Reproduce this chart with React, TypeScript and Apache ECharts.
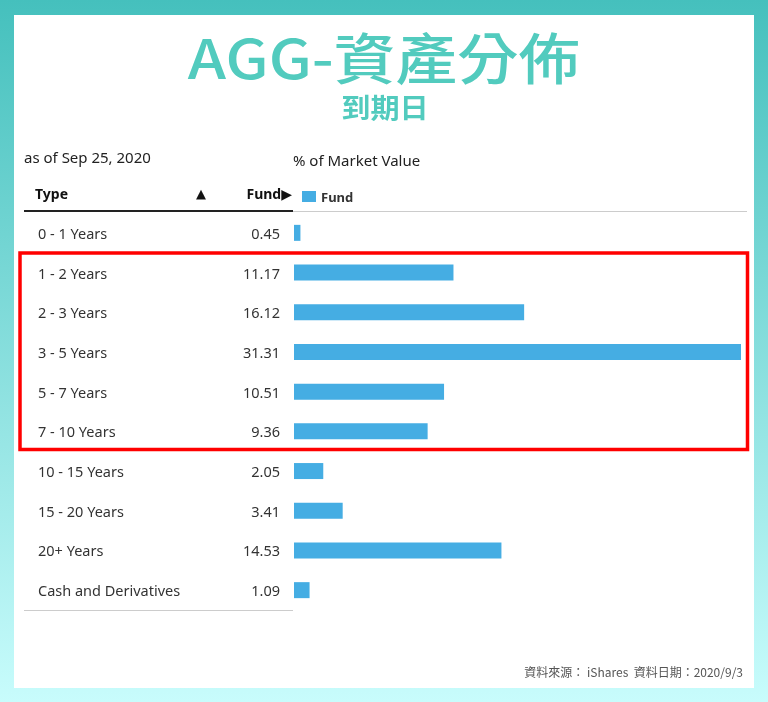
import React, { useEffect, useRef } from "react";
import * as echarts from "echarts";

const categories = [
  "0 - 1 Years",
  "1 - 2 Years",
  "2 - 3 Years",
  "3 - 5 Years",
  "5 - 7 Years",
  "7 - 10 Years",
  "10 - 15 Years",
  "15 - 20 Years",
  "20+ Years",
  "Cash and Derivatives",
];
const fundValues = [0.45, 11.17, 16.12, 31.31, 10.51, 9.36, 2.05, 3.41, 14.53, 1.09];
const titleText = "AGG-資產分佈";
const subtitleText = "到期日";
const asOfText = "as of Sep 25, 2020";
const sourceText = "資料來源： iShares  資料日期：2020/9/3";

const SANS = "'Noto Sans', 'DejaVu Sans', sans-serif";
const CJK = "'Noto Sans CJK TC', 'Noto Sans CJK SC', sans-serif";

export default function App() {
  const ref = useRef<HTMLDivElement>(null);
  useEffect(() => {
    if (!ref.current) return;
    const chart = echarts.init(ref.current, null, { renderer: "svg" });
    chart.setOption({
      animation: false,
      graphic: [
        {
          type: "rect",
          z: -10,
          silent: true,
          shape: { x: 0, y: 0, width: 768, height: 702 },
          style: {
            fill: new echarts.graphic.LinearGradient(0, 0, 0, 1, [
              { offset: 0, color: "#45c0bd" },
              { offset: 1, color: "#c8fcfc" },
            ]),
          },
        },
        {
          type: "rect",
          z: -9,
          silent: true,
          shape: { x: 14, y: 15, width: 740, height: 673 },
          style: { fill: "#ffffff" },
        },
        {
          type: "text",
          x: 384,
          y: 55,
          scaleX: 1.12,
          style: {
            text: titleText,
            fill: "#52cbbe",
            font: `500 55px ${CJK}`,
            align: "center",
            verticalAlign: "middle",
          },
        },
        {
          type: "text",
          x: 385,
          y: 106,
          scaleX: 1.08,
          style: {
            text: subtitleText,
            fill: "#52cbbe",
            font: `bold 27px ${CJK}`,
            align: "center",
            verticalAlign: "middle",
          },
        },
        {
          type: "text",
          x: 24,
          y: 157,
          style: { text: asOfText, fill: "#222", font: `15px ${SANS}`, verticalAlign: "middle" },
        },
        {
          type: "text",
          x: 293,
          y: 160,
          style: { text: "% of Market Value", fill: "#222", font: `15px ${SANS}`, verticalAlign: "middle" },
        },
        {
          type: "text",
          x: 35,
          y: 193,
          style: { text: "Type", fill: "#111", font: `bold 14px ${SANS}`, verticalAlign: "middle" },
        },
        {
          type: "text",
          x: 201,
          y: 193,
          style: { text: "▲", fill: "#111", font: `13px ${SANS}`, align: "center", verticalAlign: "middle" },
        },
        {
          type: "text",
          x: 292,
          y: 193,
          style: { text: "Fund▶", fill: "#111", font: `bold 14px ${SANS}`, align: "right", verticalAlign: "middle" },
        },
        {
          type: "line",
          shape: { x1: 293, y1: 211.5, x2: 747, y2: 211.5 },
          style: { stroke: "#cccccc", lineWidth: 1 },
        },
        {
          type: "line",
          shape: { x1: 24, y1: 211, x2: 293, y2: 211 },
          style: { stroke: "#222222", lineWidth: 2 },
        },
        {
          type: "line",
          shape: { x1: 24, y1: 610.5, x2: 293, y2: 610.5 },
          style: { stroke: "#cccccc", lineWidth: 1 },
        },
        {
          type: "rect",
          z: 100,
          shape: { x: 20, y: 253, width: 727.5, height: 196.5 },
          style: { fill: "none", stroke: "#ff0000", lineWidth: 3.5 },
        },
        {
          type: "text",
          x: 743,
          y: 671,
          style: { text: sourceText, fill: "#555", font: `12px ${CJK}`, align: "right", verticalAlign: "middle" },
        },
      ],
      legend: {
        left: 302,
        top: 190,
        padding: 0,
        icon: "rect",
        itemWidth: 14,
        itemHeight: 11,
        itemGap: 8,
        textStyle: { color: "#333", fontSize: 13, fontWeight: "bold", fontFamily: SANS },
        data: ["Fund"],
      },
      grid: { left: 294, right: 27, top: 213, height: 397, containLabel: false },
      xAxis: {
        type: "value",
        min: 0,
        max: "dataMax",
        show: false,
        splitLine: { show: false },
      },
      yAxis: [
        {
          type: "category",
          inverse: true,
          data: categories,
          axisLine: { show: false },
          axisTick: { show: false },
          axisLabel: {
            align: "left",
            margin: 256,
            color: "#333",
            fontSize: 14.5,
            fontFamily: SANS,
          },
        },
        {
          type: "category",
          inverse: true,
          position: "left",
          data: fundValues.map((v) => v.toFixed(2)),
          axisLine: { show: false },
          axisTick: { show: false },
          axisLabel: {
            align: "right",
            margin: 14,
            color: "#333",
            fontSize: 14.5,
            fontFamily: SANS,
          },
        },
      ],
      series: [
        {
          name: "Fund",
          type: "bar",
          yAxisIndex: 0,
          data: fundValues,
          barWidth: 16,
          itemStyle: { color: "#45ade3" },
        },
      ],
    });
    return () => chart.dispose();
  }, []);
  return (
    <div
      ref={ref}
      style={{ position: "fixed", left: 0, top: 0, width: 768, height: 702 }}
    />
  );
}
